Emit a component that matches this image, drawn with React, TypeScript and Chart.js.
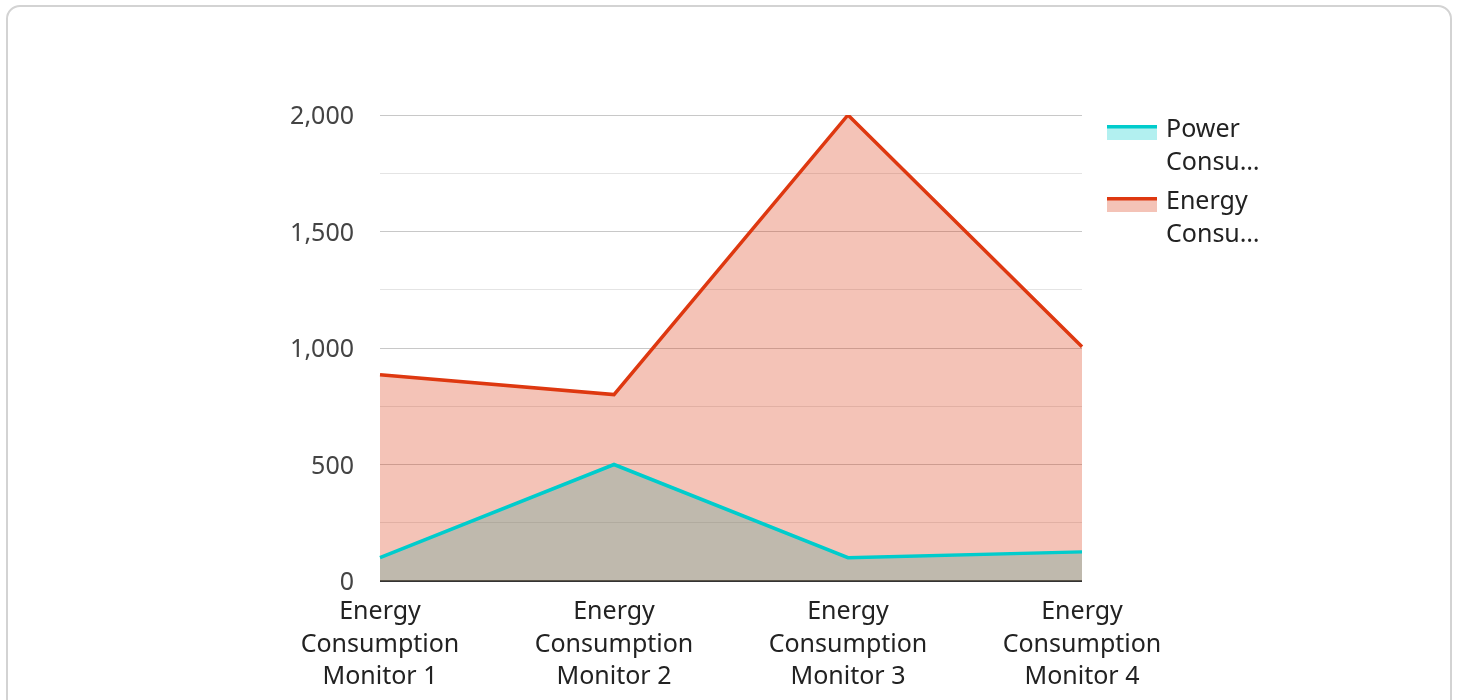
import React, { useEffect, useRef } from 'react';
import { Chart, registerables } from 'chart.js';

Chart.register(...registerables);

const categories: string[][] = [
  ['Energy', 'Consumption', 'Monitor 1'],
  ['Energy', 'Consumption', 'Monitor 2'],
  ['Energy', 'Consumption', 'Monitor 3'],
  ['Energy', 'Consumption', 'Monitor 4'],
];
const seriesNames = ['Power Consumption', 'Energy Consumption'];
const legendLabels: string[][] = [
  ['Power', 'Consu…'],
  ['Energy', 'Consu…'],
];
const powerValues = [100, 500, 100, 125];
const energyValues = [885, 800, 2000, 1005];
const yTickLabels = [0, 500, 1000, 1500, 2000];

const CYAN = 'rgb(0,204,204)';
const CYAN_FILL = 'rgba(0,204,204,0.3)';
const RED = 'rgb(222,56,16)';
const RED_FILL = 'rgba(220,57,18,0.3)';
const FONT = '"Noto Sans", "Open Sans", sans-serif';

const legendPlugin = {
  id: 'customLegend',
  afterDraw(chart: any) {
    const ctx = chart.ctx as CanvasRenderingContext2D;
    const area = chart.chartArea;
    const x0 = area.right + 25;
    const colors = [CYAN, RED];
    const fills = [CYAN_FILL, RED_FILL];
    ctx.save();
    legendLabels.forEach((lines, i) => {
      const top = area.top + 10 + i * 72;
      ctx.fillStyle = fills[i];
      ctx.fillRect(x0, top + 3, 50, 12);
      ctx.fillStyle = colors[i];
      ctx.fillRect(x0, top, 50, 3.5);
      ctx.fillStyle = '#222';
      ctx.font = `25px ${FONT}`;
      ctx.textBaseline = 'middle';
      ctx.textAlign = 'left';
      lines.forEach((t, j) => {
        ctx.fillText(t, x0 + 59, top + 5 + j * 32.5);
      });
    });
    ctx.restore();
  },
};

export default function App() {
  const ref = useRef<HTMLCanvasElement | null>(null);
  useEffect(() => {
    if (!ref.current) return;
    const chart = new Chart(ref.current, {
      type: 'line',
      data: {
        labels: categories,
        datasets: [
          {
            label: seriesNames[0],
            data: powerValues,
            borderColor: CYAN,
            backgroundColor: CYAN_FILL,
            borderWidth: 3.5,
            fill: 'origin',
            pointRadius: 0,
            tension: 0,
            order: 1,
          },
          {
            label: seriesNames[1],
            data: energyValues,
            borderColor: RED,
            backgroundColor: RED_FILL,
            borderWidth: 3.5,
            fill: 'origin',
            pointRadius: 0,
            tension: 0,
            order: 0,
          },
        ],
      },
      options: {
        responsive: false,
        animation: false,
        devicePixelRatio: 1,
        layout: { padding: { left: 0, top: 115, right: 376, bottom: 0 } },
        plugins: {
          legend: { display: false },
          tooltip: { enabled: false },
          filler: { drawTime: 'beforeDatasetsDraw' },
        },
        scales: {
          x: {
            offset: false,
            grid: { display: false, drawTicks: false },
            border: { display: false },
            ticks: {
              autoSkip: false,
              maxRotation: 0,
              minRotation: 0,
              padding: 15,
              color: '#222',
              font: { family: FONT, size: 25, lineHeight: 1.3 },
            },
            afterFit: (s: any) => {
              s.height = 119;
            },
          },
          y: {
            min: 0,
            max: 2000,
            border: { display: false },
            grid: {
              drawTicks: false,
              color: (c: any) => {
                const v = c.tick ? c.tick.value : 0;
                if (v === 0) return '#333';
                if (v % 500 === 0) return '#c8c8c8';
                return '#e4e4e4';
              },
              lineWidth: (c: any) => (c.tick && c.tick.value === 0 ? 2 : 1),
            },
            ticks: {
              stepSize: 250,
              autoSkip: false,
              padding: 26,
              labelOffset: 2,
              color: '#444',
              font: { family: FONT, size: 25 },
              callback: (v: any) =>
                yTickLabels.includes(Number(v)) ? Number(v).toLocaleString('en-US') : '',
            },
            afterFit: (s: any) => {
              s.width = 380;
            },
          },
        },
      },
      plugins: [legendPlugin],
    });
    return () => chart.destroy();
  }, []);

  return (
    <div>
      <div
        style={{
          position: 'fixed',
          left: 6,
          top: 5,
          width: 1446,
          height: 720,
          boxSizing: 'border-box',
          border: '2px solid #d3d3d3',
          borderRadius: 14,
          background: '#fff',
        }}
      />
      <canvas
        ref={ref}
        width={1458}
        height={700}
        style={{ position: 'fixed', left: 0, top: 0, width: 1458, height: 700 }}
      />
    </div>
  );
}
